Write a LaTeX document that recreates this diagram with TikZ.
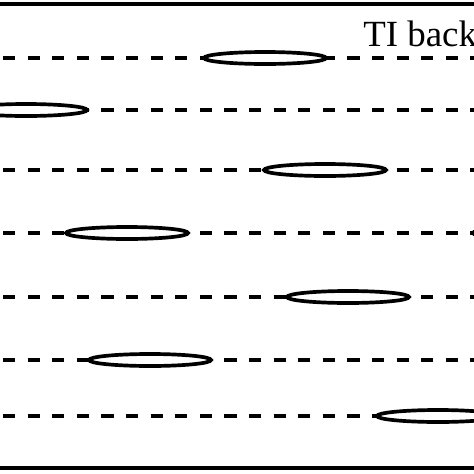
\documentclass[tikz,border=0pt]{standalone}
\usepackage{fontspec}
\setmainfont{Liberation Serif}
\usetikzlibrary{shapes.geometric}

\begin{document}
\begin{tikzpicture}[
x=0.02cm, y=-0.02cm,
 lane/.style = {line width=2.3pt, dash pattern=on 7pt off 7pt},% dashed rows
   TI/.style = {ellipse, draw, fill=white, line width=2.1pt,
                minimum width=2.44cm, minimum height=0.24cm,
                inner sep=0pt, outer sep=0pt},
                        ]
\useasboundingbox (0,0) rectangle (474,474);
\clip (0,0) rectangle (474,474);
% frame lines, top and bottom
\draw[line width=2pt] (0,4) coordinate (T-w) -- (474,4) coordinate (T-e);
\draw[line width=2pt] (0,468) coordinate (B-w) -- (474,468) coordinate (B-e);
\node[anchor=base west, inner sep=0pt, font=\fontsize{21}{24}\selectfont] (bg) at (363,46) {TI back};
\foreach \y/\x [count=\i] in {58/265, 110/26, 170/325, 233/127, 297/348, 360/150, 416/438}% <-- row height / ellipse centre
  {
    \coordinate (L-\i) at (3,\y);
    \coordinate (R-\i) at (474,\y);
    \draw[lane] (L-\i) -- (R-\i);
    \node[TI] (E-\i) at (\x,\y) {};
  }
\node[TI] (E-8) at (534,233) {};
\end{tikzpicture}
\end{document}
